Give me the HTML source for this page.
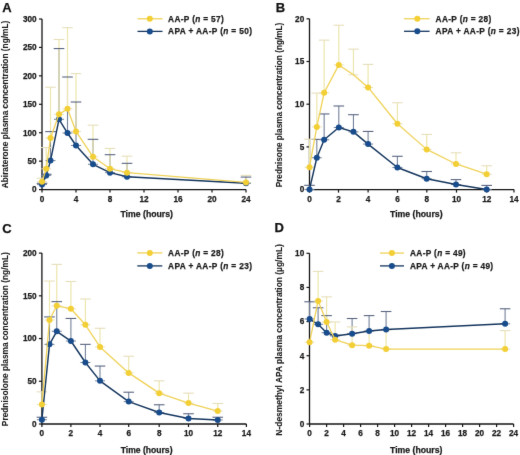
<!DOCTYPE html>
<html><head><meta charset="utf-8"><title>PK profiles</title>
<style>
html,body{margin:0;padding:0;background:#fff;}
body{width:520px;height:455px;overflow:hidden;}
svg{display:block;font-family:"Liberation Sans", sans-serif;}
</style></head>
<body>
<svg width="520" height="455" viewBox="0 0 520 455">
<defs><filter id="soft" x="0" y="0" width="520" height="455" filterUnits="userSpaceOnUse" color-interpolation-filters="sRGB"><feConvolveMatrix order="3" kernelMatrix="1 12.0 1 12.0 144.0 12.0 1 12.0 1" edgeMode="duplicate"/></filter></defs>
<g filter="url(#soft)">
<rect width="520" height="455" fill="#fff"/>
<path d="M42.00 18.99 V189.60 H246.00" fill="none" stroke="#141414" stroke-width="1.3"/>
<line x1="39.00" y1="189.60" x2="42.00" y2="189.60" stroke="#141414" stroke-width="1.2" />
<text x="36.60" y="192.40" font-size="8.2" font-weight="700" text-anchor="end" fill="#1a1a1a" stroke="#1a1a1a" stroke-width="0.25" >0</text>
<line x1="39.00" y1="161.16" x2="42.00" y2="161.16" stroke="#141414" stroke-width="1.2" />
<text x="36.60" y="163.97" font-size="8.2" font-weight="700" text-anchor="end" fill="#1a1a1a" stroke="#1a1a1a" stroke-width="0.25" >50</text>
<line x1="39.00" y1="132.73" x2="42.00" y2="132.73" stroke="#141414" stroke-width="1.2" />
<text x="36.60" y="135.53" font-size="8.2" font-weight="700" text-anchor="end" fill="#1a1a1a" stroke="#1a1a1a" stroke-width="0.25" >100</text>
<line x1="39.00" y1="104.30" x2="42.00" y2="104.30" stroke="#141414" stroke-width="1.2" />
<text x="36.60" y="107.09" font-size="8.2" font-weight="700" text-anchor="end" fill="#1a1a1a" stroke="#1a1a1a" stroke-width="0.25" >150</text>
<line x1="39.00" y1="75.86" x2="42.00" y2="75.86" stroke="#141414" stroke-width="1.2" />
<text x="36.60" y="78.66" font-size="8.2" font-weight="700" text-anchor="end" fill="#1a1a1a" stroke="#1a1a1a" stroke-width="0.25" >200</text>
<line x1="39.00" y1="47.43" x2="42.00" y2="47.43" stroke="#141414" stroke-width="1.2" />
<text x="36.60" y="50.23" font-size="8.2" font-weight="700" text-anchor="end" fill="#1a1a1a" stroke="#1a1a1a" stroke-width="0.25" >250</text>
<line x1="39.00" y1="18.99" x2="42.00" y2="18.99" stroke="#141414" stroke-width="1.2" />
<text x="36.60" y="21.79" font-size="8.2" font-weight="700" text-anchor="end" fill="#1a1a1a" stroke="#1a1a1a" stroke-width="0.25" >300</text>
<line x1="42.00" y1="189.60" x2="42.00" y2="192.60" stroke="#141414" stroke-width="1.2" />
<text x="42.00" y="201.90" font-size="8.2" font-weight="700" text-anchor="middle" fill="#1a1a1a" stroke="#1a1a1a" stroke-width="0.25" >0</text>
<line x1="76.00" y1="189.60" x2="76.00" y2="192.60" stroke="#141414" stroke-width="1.2" />
<text x="76.00" y="201.90" font-size="8.2" font-weight="700" text-anchor="middle" fill="#1a1a1a" stroke="#1a1a1a" stroke-width="0.25" >4</text>
<line x1="110.00" y1="189.60" x2="110.00" y2="192.60" stroke="#141414" stroke-width="1.2" />
<text x="110.00" y="201.90" font-size="8.2" font-weight="700" text-anchor="middle" fill="#1a1a1a" stroke="#1a1a1a" stroke-width="0.25" >8</text>
<line x1="144.00" y1="189.60" x2="144.00" y2="192.60" stroke="#141414" stroke-width="1.2" />
<text x="144.00" y="201.90" font-size="8.2" font-weight="700" text-anchor="middle" fill="#1a1a1a" stroke="#1a1a1a" stroke-width="0.25" >12</text>
<line x1="178.00" y1="189.60" x2="178.00" y2="192.60" stroke="#141414" stroke-width="1.2" />
<text x="178.00" y="201.90" font-size="8.2" font-weight="700" text-anchor="middle" fill="#1a1a1a" stroke="#1a1a1a" stroke-width="0.25" >16</text>
<line x1="212.00" y1="189.60" x2="212.00" y2="192.60" stroke="#141414" stroke-width="1.2" />
<text x="212.00" y="201.90" font-size="8.2" font-weight="700" text-anchor="middle" fill="#1a1a1a" stroke="#1a1a1a" stroke-width="0.25" >20</text>
<line x1="246.00" y1="189.60" x2="246.00" y2="192.60" stroke="#141414" stroke-width="1.2" />
<text x="246.00" y="201.90" font-size="8.2" font-weight="700" text-anchor="middle" fill="#1a1a1a" stroke="#1a1a1a" stroke-width="0.25" >24</text>
<text x="146.70" y="216.80" font-size="8.6" font-weight="700" text-anchor="middle" fill="#1a1a1a" stroke="#1a1a1a" stroke-width="0.25" textLength="52.5" lengthAdjust="spacingAndGlyphs">Time (hours)</text>
<text x="0" y="0" transform="translate(7.90,104.50) rotate(-90)" font-size="8.25" font-weight="700" text-anchor="middle" fill="#1a1a1a" stroke="#1a1a1a" stroke-width="0.1" textLength="167.5" lengthAdjust="spacingAndGlyphs">Abiraterone plasma concentration (ng/mL)</text>
<text x="2.30" y="12.20" font-size="13" font-weight="700" text-anchor="start" fill="#111" stroke="#111" stroke-width="0.25" >A</text>
<line x1="137.50" y1="18.75" x2="162.50" y2="18.75" stroke="#efd258" stroke-width="1.3" />
<circle cx="149.8" cy="18.75" r="3.0" fill="#f3cf36"/>
<line x1="137.50" y1="31.40" x2="162.50" y2="31.40" stroke="#16375f" stroke-width="1.3" />
<circle cx="149.8" cy="31.4" r="3.0" fill="#184c8c"/>
<text x="168.10" y="21.65" font-size="8.3" font-weight="700" text-anchor="start" fill="#1a1a1a" stroke="#1a1a1a" stroke-width="0.25" textLength="55.6" lengthAdjust="spacing">AA-P (<tspan font-style="italic">n</tspan> = 57)</text>
<text x="168.10" y="34.30" font-size="8.3" font-weight="700" text-anchor="start" fill="#1a1a1a" stroke="#1a1a1a" stroke-width="0.25" textLength="83.8" lengthAdjust="spacing">APA + AA-P (<tspan font-style="italic">n</tspan> = 50)</text>
<line x1="42.00" y1="184.60" x2="42.00" y2="183.34" stroke="#74829a" stroke-width="1.1" />
<line x1="46.25" y1="175.38" x2="46.25" y2="174.25" stroke="#74829a" stroke-width="1.1" />
<line x1="50.50" y1="160.60" x2="50.50" y2="131.59" stroke="#74829a" stroke-width="1.1" />
<line x1="59.00" y1="119.31" x2="59.00" y2="48.56" stroke="#74829a" stroke-width="1.1" />
<line x1="67.50" y1="133.01" x2="67.50" y2="77.00" stroke="#74829a" stroke-width="1.1" />
<line x1="76.00" y1="145.53" x2="76.00" y2="102.02" stroke="#74829a" stroke-width="1.1" />
<line x1="93.00" y1="164.29" x2="93.00" y2="139.33" stroke="#74829a" stroke-width="1.1" />
<line x1="110.00" y1="172.65" x2="110.00" y2="154.68" stroke="#74829a" stroke-width="1.1" />
<line x1="127.00" y1="176.80" x2="127.00" y2="163.33" stroke="#74829a" stroke-width="1.1" />
<line x1="246.00" y1="183.34" x2="246.00" y2="177.09" stroke="#74829a" stroke-width="1.1" />
<line x1="42.00" y1="181.64" x2="42.00" y2="178.23" stroke="#ece6ac" stroke-width="1.2" />
<line x1="46.25" y1="168.84" x2="46.25" y2="147.52" stroke="#ece6ac" stroke-width="1.2" />
<line x1="50.50" y1="138.02" x2="50.50" y2="87.23" stroke="#ece6ac" stroke-width="1.2" />
<line x1="59.00" y1="114.30" x2="59.00" y2="39.46" stroke="#ece6ac" stroke-width="1.2" />
<line x1="67.50" y1="108.84" x2="67.50" y2="27.69" stroke="#ece6ac" stroke-width="1.2" />
<line x1="76.00" y1="131.42" x2="76.00" y2="73.59" stroke="#ece6ac" stroke-width="1.2" />
<line x1="93.00" y1="156.79" x2="93.00" y2="125.17" stroke="#ece6ac" stroke-width="1.2" />
<line x1="110.00" y1="168.67" x2="110.00" y2="148.43" stroke="#ece6ac" stroke-width="1.2" />
<line x1="127.00" y1="172.65" x2="127.00" y2="156.16" stroke="#ece6ac" stroke-width="1.2" />
<line x1="246.00" y1="182.43" x2="246.00" y2="175.38" stroke="#ece6ac" stroke-width="1.2" />
<line x1="36.70" y1="183.34" x2="47.30" y2="183.34" stroke="#5a6580" stroke-width="1.1" />
<line x1="40.95" y1="174.25" x2="51.55" y2="174.25" stroke="#5a6580" stroke-width="1.1" />
<line x1="45.20" y1="131.59" x2="55.80" y2="131.59" stroke="#5a6580" stroke-width="1.1" />
<line x1="53.70" y1="48.56" x2="64.30" y2="48.56" stroke="#5a6580" stroke-width="1.1" />
<line x1="62.20" y1="77.00" x2="72.80" y2="77.00" stroke="#5a6580" stroke-width="1.1" />
<line x1="70.70" y1="102.02" x2="81.30" y2="102.02" stroke="#5a6580" stroke-width="1.1" />
<line x1="87.70" y1="139.33" x2="98.30" y2="139.33" stroke="#5a6580" stroke-width="1.1" />
<line x1="104.70" y1="154.68" x2="115.30" y2="154.68" stroke="#5a6580" stroke-width="1.1" />
<line x1="121.70" y1="163.33" x2="132.30" y2="163.33" stroke="#5a6580" stroke-width="1.1" />
<line x1="240.70" y1="177.09" x2="251.30" y2="177.09" stroke="#5a6580" stroke-width="1.1" />
<line x1="36.70" y1="178.23" x2="47.30" y2="178.23" stroke="#e6dfbb" stroke-width="1.1" />
<line x1="40.95" y1="147.52" x2="51.55" y2="147.52" stroke="#e6dfbb" stroke-width="1.1" />
<line x1="45.20" y1="87.23" x2="55.80" y2="87.23" stroke="#e6dfbb" stroke-width="1.1" />
<line x1="53.70" y1="39.46" x2="64.30" y2="39.46" stroke="#e6dfbb" stroke-width="1.1" />
<line x1="62.20" y1="27.69" x2="72.80" y2="27.69" stroke="#e6dfbb" stroke-width="1.1" />
<line x1="70.70" y1="73.59" x2="81.30" y2="73.59" stroke="#e6dfbb" stroke-width="1.1" />
<line x1="87.70" y1="125.17" x2="98.30" y2="125.17" stroke="#e6dfbb" stroke-width="1.1" />
<line x1="104.70" y1="148.43" x2="115.30" y2="148.43" stroke="#e6dfbb" stroke-width="1.1" />
<line x1="121.70" y1="156.16" x2="132.30" y2="156.16" stroke="#e6dfbb" stroke-width="1.1" />
<line x1="240.70" y1="175.38" x2="251.30" y2="175.38" stroke="#e6dfbb" stroke-width="1.1" />
<line x1="37.00" y1="181.64" x2="47.00" y2="181.64" stroke="#e6dfbb" stroke-width="1.0" />
<line x1="41.25" y1="168.84" x2="51.25" y2="168.84" stroke="#e6dfbb" stroke-width="1.0" />
<line x1="45.50" y1="138.02" x2="55.50" y2="138.02" stroke="#e6dfbb" stroke-width="1.0" />
<line x1="54.00" y1="114.30" x2="64.00" y2="114.30" stroke="#e6dfbb" stroke-width="1.0" />
<line x1="62.50" y1="108.84" x2="72.50" y2="108.84" stroke="#e6dfbb" stroke-width="1.0" />
<line x1="71.00" y1="131.42" x2="81.00" y2="131.42" stroke="#e6dfbb" stroke-width="1.0" />
<line x1="88.00" y1="156.79" x2="98.00" y2="156.79" stroke="#e6dfbb" stroke-width="1.0" />
<line x1="105.00" y1="168.67" x2="115.00" y2="168.67" stroke="#e6dfbb" stroke-width="1.0" />
<line x1="122.00" y1="172.65" x2="132.00" y2="172.65" stroke="#e6dfbb" stroke-width="1.0" />
<line x1="241.00" y1="182.43" x2="251.00" y2="182.43" stroke="#e6dfbb" stroke-width="1.0" />
<line x1="37.00" y1="184.60" x2="47.00" y2="184.60" stroke="#74829a" stroke-width="1.0" />
<line x1="41.25" y1="175.38" x2="51.25" y2="175.38" stroke="#74829a" stroke-width="1.0" />
<line x1="45.50" y1="160.60" x2="55.50" y2="160.60" stroke="#74829a" stroke-width="1.0" />
<line x1="54.00" y1="119.31" x2="64.00" y2="119.31" stroke="#74829a" stroke-width="1.0" />
<line x1="62.50" y1="133.01" x2="72.50" y2="133.01" stroke="#74829a" stroke-width="1.0" />
<line x1="71.00" y1="145.53" x2="81.00" y2="145.53" stroke="#74829a" stroke-width="1.0" />
<line x1="88.00" y1="164.29" x2="98.00" y2="164.29" stroke="#74829a" stroke-width="1.0" />
<line x1="105.00" y1="172.65" x2="115.00" y2="172.65" stroke="#74829a" stroke-width="1.0" />
<line x1="122.00" y1="176.80" x2="132.00" y2="176.80" stroke="#74829a" stroke-width="1.0" />
<line x1="241.00" y1="183.34" x2="251.00" y2="183.34" stroke="#74829a" stroke-width="1.0" />
<polyline points="42.00,184.60 46.25,175.38 50.50,160.60 59.00,119.31 67.50,133.01 76.00,145.53 93.00,164.29 110.00,172.65 127.00,176.80 246.00,183.34" fill="none" stroke="#16375f" stroke-width="1.45" stroke-linejoin="round"/>
<circle cx="42.00" cy="184.60" r="3.0" fill="#184c8c"/>
<circle cx="46.25" cy="175.38" r="3.0" fill="#184c8c"/>
<circle cx="50.50" cy="160.60" r="3.0" fill="#184c8c"/>
<circle cx="59.00" cy="119.31" r="3.0" fill="#184c8c"/>
<circle cx="67.50" cy="133.01" r="3.0" fill="#184c8c"/>
<circle cx="76.00" cy="145.53" r="3.0" fill="#184c8c"/>
<circle cx="93.00" cy="164.29" r="3.0" fill="#184c8c"/>
<circle cx="110.00" cy="172.65" r="3.0" fill="#184c8c"/>
<circle cx="127.00" cy="176.80" r="3.0" fill="#184c8c"/>
<circle cx="246.00" cy="183.34" r="3.0" fill="#184c8c"/>
<polyline points="42.00,181.64 46.25,168.84 50.50,138.02 59.00,114.30 67.50,108.84 76.00,131.42 93.00,156.79 110.00,168.67 127.00,172.65 246.00,182.43" fill="none" stroke="#efd258" stroke-width="1.3" stroke-linejoin="round"/>
<circle cx="42.00" cy="181.64" r="3.0" fill="#f3cf36"/>
<circle cx="46.25" cy="168.84" r="3.0" fill="#f3cf36"/>
<circle cx="50.50" cy="138.02" r="3.0" fill="#f3cf36"/>
<circle cx="59.00" cy="114.30" r="3.0" fill="#f3cf36"/>
<circle cx="67.50" cy="108.84" r="3.0" fill="#f3cf36"/>
<circle cx="76.00" cy="131.42" r="3.0" fill="#f3cf36"/>
<circle cx="93.00" cy="156.79" r="3.0" fill="#f3cf36"/>
<circle cx="110.00" cy="168.67" r="3.0" fill="#f3cf36"/>
<circle cx="127.00" cy="172.65" r="3.0" fill="#f3cf36"/>
<circle cx="246.00" cy="182.43" r="3.0" fill="#f3cf36"/>
<path d="M309.50 18.80 V189.60 H514.00" fill="none" stroke="#141414" stroke-width="1.3"/>
<line x1="306.50" y1="189.60" x2="309.50" y2="189.60" stroke="#141414" stroke-width="1.2" />
<text x="304.20" y="192.40" font-size="8.2" font-weight="700" text-anchor="end" fill="#1a1a1a" stroke="#1a1a1a" stroke-width="0.25" >0</text>
<line x1="306.50" y1="146.90" x2="309.50" y2="146.90" stroke="#141414" stroke-width="1.2" />
<text x="304.20" y="149.70" font-size="8.2" font-weight="700" text-anchor="end" fill="#1a1a1a" stroke="#1a1a1a" stroke-width="0.25" >5</text>
<line x1="306.50" y1="104.20" x2="309.50" y2="104.20" stroke="#141414" stroke-width="1.2" />
<text x="304.20" y="107.00" font-size="8.2" font-weight="700" text-anchor="end" fill="#1a1a1a" stroke="#1a1a1a" stroke-width="0.25" >10</text>
<line x1="306.50" y1="61.50" x2="309.50" y2="61.50" stroke="#141414" stroke-width="1.2" />
<text x="304.20" y="64.30" font-size="8.2" font-weight="700" text-anchor="end" fill="#1a1a1a" stroke="#1a1a1a" stroke-width="0.25" >15</text>
<line x1="306.50" y1="18.80" x2="309.50" y2="18.80" stroke="#141414" stroke-width="1.2" />
<text x="304.20" y="21.60" font-size="8.2" font-weight="700" text-anchor="end" fill="#1a1a1a" stroke="#1a1a1a" stroke-width="0.25" >20</text>
<line x1="309.50" y1="189.60" x2="309.50" y2="192.60" stroke="#141414" stroke-width="1.2" />
<text x="309.50" y="201.90" font-size="8.2" font-weight="700" text-anchor="middle" fill="#1a1a1a" stroke="#1a1a1a" stroke-width="0.25" >0</text>
<line x1="338.50" y1="189.60" x2="338.50" y2="192.60" stroke="#141414" stroke-width="1.2" />
<text x="338.50" y="201.90" font-size="8.2" font-weight="700" text-anchor="middle" fill="#1a1a1a" stroke="#1a1a1a" stroke-width="0.25" >2</text>
<line x1="368.10" y1="189.60" x2="368.10" y2="192.60" stroke="#141414" stroke-width="1.2" />
<text x="368.10" y="201.90" font-size="8.2" font-weight="700" text-anchor="middle" fill="#1a1a1a" stroke="#1a1a1a" stroke-width="0.25" >4</text>
<line x1="397.50" y1="189.60" x2="397.50" y2="192.60" stroke="#141414" stroke-width="1.2" />
<text x="397.50" y="201.90" font-size="8.2" font-weight="700" text-anchor="middle" fill="#1a1a1a" stroke="#1a1a1a" stroke-width="0.25" >6</text>
<line x1="426.80" y1="189.60" x2="426.80" y2="192.60" stroke="#141414" stroke-width="1.2" />
<text x="426.80" y="201.90" font-size="8.2" font-weight="700" text-anchor="middle" fill="#1a1a1a" stroke="#1a1a1a" stroke-width="0.25" >8</text>
<line x1="456.50" y1="189.60" x2="456.50" y2="192.60" stroke="#141414" stroke-width="1.2" />
<text x="456.50" y="201.90" font-size="8.2" font-weight="700" text-anchor="middle" fill="#1a1a1a" stroke="#1a1a1a" stroke-width="0.25" >10</text>
<line x1="486.80" y1="189.60" x2="486.80" y2="192.60" stroke="#141414" stroke-width="1.2" />
<text x="486.80" y="201.90" font-size="8.2" font-weight="700" text-anchor="middle" fill="#1a1a1a" stroke="#1a1a1a" stroke-width="0.25" >12</text>
<line x1="514.00" y1="189.60" x2="514.00" y2="192.60" stroke="#141414" stroke-width="1.2" />
<text x="514.00" y="201.90" font-size="8.2" font-weight="700" text-anchor="middle" fill="#1a1a1a" stroke="#1a1a1a" stroke-width="0.25" >14</text>
<text x="416.30" y="216.70" font-size="8.6" font-weight="700" text-anchor="middle" fill="#1a1a1a" stroke="#1a1a1a" stroke-width="0.25" textLength="52.5" lengthAdjust="spacingAndGlyphs">Time (hours)</text>
<text x="0" y="0" transform="translate(282.00,105.00) rotate(-90)" font-size="8.25" font-weight="700" text-anchor="middle" fill="#1a1a1a" stroke="#1a1a1a" stroke-width="0.1" textLength="164.7" lengthAdjust="spacingAndGlyphs">Prednisone plasma concentration (ng/mL)</text>
<text x="275.80" y="12.20" font-size="13" font-weight="700" text-anchor="start" fill="#111" stroke="#111" stroke-width="0.25" >B</text>
<line x1="404.00" y1="18.75" x2="429.60" y2="18.75" stroke="#efd258" stroke-width="1.3" />
<circle cx="417.3" cy="18.75" r="3.0" fill="#f3cf36"/>
<line x1="404.00" y1="31.30" x2="429.60" y2="31.30" stroke="#16375f" stroke-width="1.3" />
<circle cx="417.3" cy="31.3" r="3.0" fill="#184c8c"/>
<text x="435.60" y="21.65" font-size="8.3" font-weight="700" text-anchor="start" fill="#1a1a1a" stroke="#1a1a1a" stroke-width="0.25" textLength="55.6" lengthAdjust="spacing">AA-P (<tspan font-style="italic">n</tspan> = 28)</text>
<text x="435.60" y="34.20" font-size="8.3" font-weight="700" text-anchor="start" fill="#1a1a1a" stroke="#1a1a1a" stroke-width="0.25" textLength="83.8" lengthAdjust="spacing">APA + AA-P (<tspan font-style="italic">n</tspan> = 23)</text>
<line x1="309.50" y1="189.43" x2="309.50" y2="185.33" stroke="#74829a" stroke-width="1.1" />
<line x1="316.82" y1="157.75" x2="316.82" y2="139.38" stroke="#74829a" stroke-width="1.1" />
<line x1="324.15" y1="139.73" x2="324.15" y2="113.94" stroke="#74829a" stroke-width="1.1" />
<line x1="338.80" y1="127.51" x2="338.80" y2="105.99" stroke="#74829a" stroke-width="1.1" />
<line x1="353.45" y1="131.87" x2="353.45" y2="114.70" stroke="#74829a" stroke-width="1.1" />
<line x1="368.10" y1="144.08" x2="368.10" y2="131.44" stroke="#74829a" stroke-width="1.1" />
<line x1="397.40" y1="167.48" x2="397.40" y2="156.29" stroke="#74829a" stroke-width="1.1" />
<line x1="426.70" y1="178.75" x2="426.70" y2="171.50" stroke="#74829a" stroke-width="1.1" />
<line x1="456.00" y1="184.56" x2="456.00" y2="179.61" stroke="#74829a" stroke-width="1.1" />
<line x1="486.70" y1="189.43" x2="486.70" y2="185.42" stroke="#74829a" stroke-width="1.1" />
<line x1="309.50" y1="167.23" x2="309.50" y2="139.21" stroke="#ece6ac" stroke-width="1.2" />
<line x1="316.82" y1="126.92" x2="316.82" y2="93.10" stroke="#ece6ac" stroke-width="1.2" />
<line x1="324.15" y1="92.76" x2="324.15" y2="40.15" stroke="#ece6ac" stroke-width="1.2" />
<line x1="338.80" y1="64.92" x2="338.80" y2="25.21" stroke="#ece6ac" stroke-width="1.2" />
<line x1="353.45" y1="74.82" x2="353.45" y2="49.12" stroke="#ece6ac" stroke-width="1.2" />
<line x1="368.10" y1="87.46" x2="368.10" y2="64.40" stroke="#ece6ac" stroke-width="1.2" />
<line x1="397.40" y1="123.76" x2="397.40" y2="102.75" stroke="#ece6ac" stroke-width="1.2" />
<line x1="426.70" y1="149.38" x2="426.70" y2="134.43" stroke="#ece6ac" stroke-width="1.2" />
<line x1="456.00" y1="163.98" x2="456.00" y2="152.79" stroke="#ece6ac" stroke-width="1.2" />
<line x1="486.70" y1="174.23" x2="486.70" y2="165.77" stroke="#ece6ac" stroke-width="1.2" />
<line x1="304.20" y1="185.33" x2="314.80" y2="185.33" stroke="#5a6580" stroke-width="1.1" />
<line x1="311.52" y1="139.38" x2="322.12" y2="139.38" stroke="#5a6580" stroke-width="1.1" />
<line x1="318.85" y1="113.94" x2="329.45" y2="113.94" stroke="#5a6580" stroke-width="1.1" />
<line x1="333.50" y1="105.99" x2="344.10" y2="105.99" stroke="#5a6580" stroke-width="1.1" />
<line x1="348.15" y1="114.70" x2="358.75" y2="114.70" stroke="#5a6580" stroke-width="1.1" />
<line x1="362.80" y1="131.44" x2="373.40" y2="131.44" stroke="#5a6580" stroke-width="1.1" />
<line x1="392.10" y1="156.29" x2="402.70" y2="156.29" stroke="#5a6580" stroke-width="1.1" />
<line x1="421.40" y1="171.50" x2="432.00" y2="171.50" stroke="#5a6580" stroke-width="1.1" />
<line x1="450.70" y1="179.61" x2="461.30" y2="179.61" stroke="#5a6580" stroke-width="1.1" />
<line x1="481.40" y1="185.42" x2="492.00" y2="185.42" stroke="#5a6580" stroke-width="1.1" />
<line x1="304.20" y1="139.21" x2="314.80" y2="139.21" stroke="#e6dfbb" stroke-width="1.1" />
<line x1="311.52" y1="93.10" x2="322.12" y2="93.10" stroke="#e6dfbb" stroke-width="1.1" />
<line x1="318.85" y1="40.15" x2="329.45" y2="40.15" stroke="#e6dfbb" stroke-width="1.1" />
<line x1="333.50" y1="25.21" x2="344.10" y2="25.21" stroke="#e6dfbb" stroke-width="1.1" />
<line x1="348.15" y1="49.12" x2="358.75" y2="49.12" stroke="#e6dfbb" stroke-width="1.1" />
<line x1="362.80" y1="64.40" x2="373.40" y2="64.40" stroke="#e6dfbb" stroke-width="1.1" />
<line x1="392.10" y1="102.75" x2="402.70" y2="102.75" stroke="#e6dfbb" stroke-width="1.1" />
<line x1="421.40" y1="134.43" x2="432.00" y2="134.43" stroke="#e6dfbb" stroke-width="1.1" />
<line x1="450.70" y1="152.79" x2="461.30" y2="152.79" stroke="#e6dfbb" stroke-width="1.1" />
<line x1="481.40" y1="165.77" x2="492.00" y2="165.77" stroke="#e6dfbb" stroke-width="1.1" />
<line x1="304.50" y1="167.23" x2="314.50" y2="167.23" stroke="#e6dfbb" stroke-width="1.0" />
<line x1="311.82" y1="126.92" x2="321.82" y2="126.92" stroke="#e6dfbb" stroke-width="1.0" />
<line x1="319.15" y1="92.76" x2="329.15" y2="92.76" stroke="#e6dfbb" stroke-width="1.0" />
<line x1="333.80" y1="64.92" x2="343.80" y2="64.92" stroke="#e6dfbb" stroke-width="1.0" />
<line x1="348.45" y1="74.82" x2="358.45" y2="74.82" stroke="#e6dfbb" stroke-width="1.0" />
<line x1="363.10" y1="87.46" x2="373.10" y2="87.46" stroke="#e6dfbb" stroke-width="1.0" />
<line x1="392.40" y1="123.76" x2="402.40" y2="123.76" stroke="#e6dfbb" stroke-width="1.0" />
<line x1="421.70" y1="149.38" x2="431.70" y2="149.38" stroke="#e6dfbb" stroke-width="1.0" />
<line x1="451.00" y1="163.98" x2="461.00" y2="163.98" stroke="#e6dfbb" stroke-width="1.0" />
<line x1="481.70" y1="174.23" x2="491.70" y2="174.23" stroke="#e6dfbb" stroke-width="1.0" />
<line x1="304.50" y1="189.43" x2="314.50" y2="189.43" stroke="#74829a" stroke-width="1.0" />
<line x1="311.82" y1="157.75" x2="321.82" y2="157.75" stroke="#74829a" stroke-width="1.0" />
<line x1="319.15" y1="139.73" x2="329.15" y2="139.73" stroke="#74829a" stroke-width="1.0" />
<line x1="333.80" y1="127.51" x2="343.80" y2="127.51" stroke="#74829a" stroke-width="1.0" />
<line x1="348.45" y1="131.87" x2="358.45" y2="131.87" stroke="#74829a" stroke-width="1.0" />
<line x1="363.10" y1="144.08" x2="373.10" y2="144.08" stroke="#74829a" stroke-width="1.0" />
<line x1="392.40" y1="167.48" x2="402.40" y2="167.48" stroke="#74829a" stroke-width="1.0" />
<line x1="421.70" y1="178.75" x2="431.70" y2="178.75" stroke="#74829a" stroke-width="1.0" />
<line x1="451.00" y1="184.56" x2="461.00" y2="184.56" stroke="#74829a" stroke-width="1.0" />
<line x1="481.70" y1="189.43" x2="491.70" y2="189.43" stroke="#74829a" stroke-width="1.0" />
<polyline points="309.50,189.43 316.82,157.75 324.15,139.73 338.80,127.51 353.45,131.87 368.10,144.08 397.40,167.48 426.70,178.75 456.00,184.56 486.70,189.43" fill="none" stroke="#16375f" stroke-width="1.45" stroke-linejoin="round"/>
<circle cx="309.50" cy="189.43" r="3.0" fill="#184c8c"/>
<circle cx="316.82" cy="157.75" r="3.0" fill="#184c8c"/>
<circle cx="324.15" cy="139.73" r="3.0" fill="#184c8c"/>
<circle cx="338.80" cy="127.51" r="3.0" fill="#184c8c"/>
<circle cx="353.45" cy="131.87" r="3.0" fill="#184c8c"/>
<circle cx="368.10" cy="144.08" r="3.0" fill="#184c8c"/>
<circle cx="397.40" cy="167.48" r="3.0" fill="#184c8c"/>
<circle cx="426.70" cy="178.75" r="3.0" fill="#184c8c"/>
<circle cx="456.00" cy="184.56" r="3.0" fill="#184c8c"/>
<circle cx="486.70" cy="189.43" r="3.0" fill="#184c8c"/>
<polyline points="309.50,167.23 316.82,126.92 324.15,92.76 338.80,64.92 353.45,74.82 368.10,87.46 397.40,123.76 426.70,149.38 456.00,163.98 486.70,174.23" fill="none" stroke="#efd258" stroke-width="1.3" stroke-linejoin="round"/>
<circle cx="309.50" cy="167.23" r="3.0" fill="#f3cf36"/>
<circle cx="316.82" cy="126.92" r="3.0" fill="#f3cf36"/>
<circle cx="324.15" cy="92.76" r="3.0" fill="#f3cf36"/>
<circle cx="338.80" cy="64.92" r="3.0" fill="#f3cf36"/>
<circle cx="368.10" cy="87.46" r="3.0" fill="#f3cf36"/>
<circle cx="397.40" cy="123.76" r="3.0" fill="#f3cf36"/>
<circle cx="426.70" cy="149.38" r="3.0" fill="#f3cf36"/>
<circle cx="456.00" cy="163.98" r="3.0" fill="#f3cf36"/>
<circle cx="486.70" cy="174.23" r="3.0" fill="#f3cf36"/>
<path d="M41.90 253.10 V424.00 H246.40" fill="none" stroke="#141414" stroke-width="1.3"/>
<line x1="38.90" y1="424.00" x2="41.90" y2="424.00" stroke="#141414" stroke-width="1.2" />
<text x="36.60" y="426.80" font-size="8.2" font-weight="700" text-anchor="end" fill="#1a1a1a" stroke="#1a1a1a" stroke-width="0.25" >0</text>
<line x1="38.90" y1="381.27" x2="41.90" y2="381.27" stroke="#141414" stroke-width="1.2" />
<text x="36.60" y="384.07" font-size="8.2" font-weight="700" text-anchor="end" fill="#1a1a1a" stroke="#1a1a1a" stroke-width="0.25" >50</text>
<line x1="38.90" y1="338.55" x2="41.90" y2="338.55" stroke="#141414" stroke-width="1.2" />
<text x="36.60" y="341.35" font-size="8.2" font-weight="700" text-anchor="end" fill="#1a1a1a" stroke="#1a1a1a" stroke-width="0.25" >100</text>
<line x1="38.90" y1="295.82" x2="41.90" y2="295.82" stroke="#141414" stroke-width="1.2" />
<text x="36.60" y="298.62" font-size="8.2" font-weight="700" text-anchor="end" fill="#1a1a1a" stroke="#1a1a1a" stroke-width="0.25" >150</text>
<line x1="38.90" y1="253.10" x2="41.90" y2="253.10" stroke="#141414" stroke-width="1.2" />
<text x="36.60" y="255.90" font-size="8.2" font-weight="700" text-anchor="end" fill="#1a1a1a" stroke="#1a1a1a" stroke-width="0.25" >200</text>
<line x1="41.90" y1="424.00" x2="41.90" y2="427.00" stroke="#141414" stroke-width="1.2" />
<text x="41.90" y="436.30" font-size="8.2" font-weight="700" text-anchor="middle" fill="#1a1a1a" stroke="#1a1a1a" stroke-width="0.25" >0</text>
<line x1="70.90" y1="424.00" x2="70.90" y2="427.00" stroke="#141414" stroke-width="1.2" />
<text x="70.90" y="436.30" font-size="8.2" font-weight="700" text-anchor="middle" fill="#1a1a1a" stroke="#1a1a1a" stroke-width="0.25" >2</text>
<line x1="100.00" y1="424.00" x2="100.00" y2="427.00" stroke="#141414" stroke-width="1.2" />
<text x="100.00" y="436.30" font-size="8.2" font-weight="700" text-anchor="middle" fill="#1a1a1a" stroke="#1a1a1a" stroke-width="0.25" >4</text>
<line x1="128.70" y1="424.00" x2="128.70" y2="427.00" stroke="#141414" stroke-width="1.2" />
<text x="128.70" y="436.30" font-size="8.2" font-weight="700" text-anchor="middle" fill="#1a1a1a" stroke="#1a1a1a" stroke-width="0.25" >6</text>
<line x1="159.20" y1="424.00" x2="159.20" y2="427.00" stroke="#141414" stroke-width="1.2" />
<text x="159.20" y="436.30" font-size="8.2" font-weight="700" text-anchor="middle" fill="#1a1a1a" stroke="#1a1a1a" stroke-width="0.25" >8</text>
<line x1="188.50" y1="424.00" x2="188.50" y2="427.00" stroke="#141414" stroke-width="1.2" />
<text x="188.50" y="436.30" font-size="8.2" font-weight="700" text-anchor="middle" fill="#1a1a1a" stroke="#1a1a1a" stroke-width="0.25" >10</text>
<line x1="217.75" y1="424.00" x2="217.75" y2="427.00" stroke="#141414" stroke-width="1.2" />
<text x="217.75" y="436.30" font-size="8.2" font-weight="700" text-anchor="middle" fill="#1a1a1a" stroke="#1a1a1a" stroke-width="0.25" >12</text>
<line x1="246.40" y1="424.00" x2="246.40" y2="427.00" stroke="#141414" stroke-width="1.2" />
<text x="246.40" y="436.30" font-size="8.2" font-weight="700" text-anchor="middle" fill="#1a1a1a" stroke="#1a1a1a" stroke-width="0.25" >14</text>
<text x="146.60" y="452.80" font-size="8.6" font-weight="700" text-anchor="middle" fill="#1a1a1a" stroke="#1a1a1a" stroke-width="0.25" textLength="51.8" lengthAdjust="spacingAndGlyphs">Time (hours)</text>
<text x="0" y="0" transform="translate(7.90,339.20) rotate(-90)" font-size="8.25" font-weight="700" text-anchor="middle" fill="#1a1a1a" stroke="#1a1a1a" stroke-width="0.1" textLength="173.9" lengthAdjust="spacingAndGlyphs">Prednisolone plasma concentration (ng/mL)</text>
<text x="2.30" y="232.50" font-size="13" font-weight="700" text-anchor="start" fill="#111" stroke="#111" stroke-width="0.25" >C</text>
<line x1="137.30" y1="252.90" x2="162.30" y2="252.90" stroke="#efd258" stroke-width="1.3" />
<circle cx="149.8" cy="252.9" r="3.0" fill="#f3cf36"/>
<line x1="137.30" y1="265.90" x2="162.30" y2="265.90" stroke="#16375f" stroke-width="1.3" />
<circle cx="149.8" cy="265.9" r="3.0" fill="#184c8c"/>
<text x="168.10" y="255.80" font-size="8.3" font-weight="700" text-anchor="start" fill="#1a1a1a" stroke="#1a1a1a" stroke-width="0.25" textLength="55.6" lengthAdjust="spacing">AA-P (<tspan font-style="italic">n</tspan> = 28)</text>
<text x="168.10" y="268.80" font-size="8.3" font-weight="700" text-anchor="start" fill="#1a1a1a" stroke="#1a1a1a" stroke-width="0.25" textLength="83.8" lengthAdjust="spacing">APA + AA-P (<tspan font-style="italic">n</tspan> = 23)</text>
<line x1="41.90" y1="419.73" x2="41.90" y2="417.25" stroke="#74829a" stroke-width="1.1" />
<line x1="49.50" y1="344.36" x2="49.50" y2="316.93" stroke="#74829a" stroke-width="1.1" />
<line x1="56.75" y1="331.29" x2="56.75" y2="301.64" stroke="#74829a" stroke-width="1.1" />
<line x1="70.90" y1="341.03" x2="70.90" y2="318.47" stroke="#74829a" stroke-width="1.1" />
<line x1="85.40" y1="362.48" x2="85.40" y2="344.36" stroke="#74829a" stroke-width="1.1" />
<line x1="100.00" y1="380.85" x2="100.00" y2="366.06" stroke="#74829a" stroke-width="1.1" />
<line x1="128.70" y1="401.61" x2="128.70" y2="392.21" stroke="#74829a" stroke-width="1.1" />
<line x1="159.20" y1="412.46" x2="159.20" y2="404.77" stroke="#74829a" stroke-width="1.1" />
<line x1="188.50" y1="418.53" x2="188.50" y2="413.75" stroke="#74829a" stroke-width="1.1" />
<line x1="217.75" y1="419.98" x2="217.75" y2="417.25" stroke="#74829a" stroke-width="1.1" />
<line x1="41.90" y1="404.43" x2="41.90" y2="391.87" stroke="#ece6ac" stroke-width="1.2" />
<line x1="49.50" y1="320.01" x2="49.50" y2="281.04" stroke="#ece6ac" stroke-width="1.2" />
<line x1="56.75" y1="305.82" x2="56.75" y2="264.38" stroke="#ece6ac" stroke-width="1.2" />
<line x1="70.90" y1="308.73" x2="70.90" y2="281.47" stroke="#ece6ac" stroke-width="1.2" />
<line x1="85.40" y1="324.79" x2="85.40" y2="298.99" stroke="#ece6ac" stroke-width="1.2" />
<line x1="100.00" y1="346.92" x2="100.00" y2="328.30" stroke="#ece6ac" stroke-width="1.2" />
<line x1="128.70" y1="372.90" x2="128.70" y2="356.24" stroke="#ece6ac" stroke-width="1.2" />
<line x1="159.20" y1="393.15" x2="159.20" y2="380.85" stroke="#ece6ac" stroke-width="1.2" />
<line x1="188.50" y1="403.06" x2="188.50" y2="393.15" stroke="#ece6ac" stroke-width="1.2" />
<line x1="217.75" y1="411.01" x2="217.75" y2="403.49" stroke="#ece6ac" stroke-width="1.2" />
<line x1="36.60" y1="417.25" x2="47.20" y2="417.25" stroke="#5a6580" stroke-width="1.1" />
<line x1="44.20" y1="316.93" x2="54.80" y2="316.93" stroke="#5a6580" stroke-width="1.1" />
<line x1="51.45" y1="301.64" x2="62.05" y2="301.64" stroke="#5a6580" stroke-width="1.1" />
<line x1="65.60" y1="318.47" x2="76.20" y2="318.47" stroke="#5a6580" stroke-width="1.1" />
<line x1="80.10" y1="344.36" x2="90.70" y2="344.36" stroke="#5a6580" stroke-width="1.1" />
<line x1="94.70" y1="366.06" x2="105.30" y2="366.06" stroke="#5a6580" stroke-width="1.1" />
<line x1="123.40" y1="392.21" x2="134.00" y2="392.21" stroke="#5a6580" stroke-width="1.1" />
<line x1="153.90" y1="404.77" x2="164.50" y2="404.77" stroke="#5a6580" stroke-width="1.1" />
<line x1="183.20" y1="413.75" x2="193.80" y2="413.75" stroke="#5a6580" stroke-width="1.1" />
<line x1="212.45" y1="417.25" x2="223.05" y2="417.25" stroke="#5a6580" stroke-width="1.1" />
<line x1="36.60" y1="391.87" x2="47.20" y2="391.87" stroke="#e6dfbb" stroke-width="1.1" />
<line x1="44.20" y1="281.04" x2="54.80" y2="281.04" stroke="#e6dfbb" stroke-width="1.1" />
<line x1="51.45" y1="264.38" x2="62.05" y2="264.38" stroke="#e6dfbb" stroke-width="1.1" />
<line x1="65.60" y1="281.47" x2="76.20" y2="281.47" stroke="#e6dfbb" stroke-width="1.1" />
<line x1="80.10" y1="298.99" x2="90.70" y2="298.99" stroke="#e6dfbb" stroke-width="1.1" />
<line x1="94.70" y1="328.30" x2="105.30" y2="328.30" stroke="#e6dfbb" stroke-width="1.1" />
<line x1="123.40" y1="356.24" x2="134.00" y2="356.24" stroke="#e6dfbb" stroke-width="1.1" />
<line x1="153.90" y1="380.85" x2="164.50" y2="380.85" stroke="#e6dfbb" stroke-width="1.1" />
<line x1="183.20" y1="393.15" x2="193.80" y2="393.15" stroke="#e6dfbb" stroke-width="1.1" />
<line x1="212.45" y1="403.49" x2="223.05" y2="403.49" stroke="#e6dfbb" stroke-width="1.1" />
<line x1="36.90" y1="404.43" x2="46.90" y2="404.43" stroke="#e6dfbb" stroke-width="1.0" />
<line x1="44.50" y1="320.01" x2="54.50" y2="320.01" stroke="#e6dfbb" stroke-width="1.0" />
<line x1="51.75" y1="305.82" x2="61.75" y2="305.82" stroke="#e6dfbb" stroke-width="1.0" />
<line x1="65.90" y1="308.73" x2="75.90" y2="308.73" stroke="#e6dfbb" stroke-width="1.0" />
<line x1="80.40" y1="324.79" x2="90.40" y2="324.79" stroke="#e6dfbb" stroke-width="1.0" />
<line x1="95.00" y1="346.92" x2="105.00" y2="346.92" stroke="#e6dfbb" stroke-width="1.0" />
<line x1="123.70" y1="372.90" x2="133.70" y2="372.90" stroke="#e6dfbb" stroke-width="1.0" />
<line x1="154.20" y1="393.15" x2="164.20" y2="393.15" stroke="#e6dfbb" stroke-width="1.0" />
<line x1="183.50" y1="403.06" x2="193.50" y2="403.06" stroke="#e6dfbb" stroke-width="1.0" />
<line x1="212.75" y1="411.01" x2="222.75" y2="411.01" stroke="#e6dfbb" stroke-width="1.0" />
<line x1="36.90" y1="419.73" x2="46.90" y2="419.73" stroke="#74829a" stroke-width="1.0" />
<line x1="44.50" y1="344.36" x2="54.50" y2="344.36" stroke="#74829a" stroke-width="1.0" />
<line x1="51.75" y1="331.29" x2="61.75" y2="331.29" stroke="#74829a" stroke-width="1.0" />
<line x1="65.90" y1="341.03" x2="75.90" y2="341.03" stroke="#74829a" stroke-width="1.0" />
<line x1="80.40" y1="362.48" x2="90.40" y2="362.48" stroke="#74829a" stroke-width="1.0" />
<line x1="95.00" y1="380.85" x2="105.00" y2="380.85" stroke="#74829a" stroke-width="1.0" />
<line x1="123.70" y1="401.61" x2="133.70" y2="401.61" stroke="#74829a" stroke-width="1.0" />
<line x1="154.20" y1="412.46" x2="164.20" y2="412.46" stroke="#74829a" stroke-width="1.0" />
<line x1="183.50" y1="418.53" x2="193.50" y2="418.53" stroke="#74829a" stroke-width="1.0" />
<line x1="212.75" y1="419.98" x2="222.75" y2="419.98" stroke="#74829a" stroke-width="1.0" />
<polyline points="41.90,419.73 49.50,344.36 56.75,331.29 70.90,341.03 85.40,362.48 100.00,380.85 128.70,401.61 159.20,412.46 188.50,418.53 217.75,419.98" fill="none" stroke="#16375f" stroke-width="1.45" stroke-linejoin="round"/>
<circle cx="41.90" cy="419.73" r="3.0" fill="#184c8c"/>
<circle cx="49.50" cy="344.36" r="3.0" fill="#184c8c"/>
<circle cx="56.75" cy="331.29" r="3.0" fill="#184c8c"/>
<circle cx="70.90" cy="341.03" r="3.0" fill="#184c8c"/>
<circle cx="85.40" cy="362.48" r="3.0" fill="#184c8c"/>
<circle cx="100.00" cy="380.85" r="3.0" fill="#184c8c"/>
<circle cx="128.70" cy="401.61" r="3.0" fill="#184c8c"/>
<circle cx="159.20" cy="412.46" r="3.0" fill="#184c8c"/>
<circle cx="188.50" cy="418.53" r="3.0" fill="#184c8c"/>
<circle cx="217.75" cy="419.98" r="3.0" fill="#184c8c"/>
<polyline points="41.90,404.43 49.50,320.01 56.75,305.82 70.90,308.73 85.40,324.79 100.00,346.92 128.70,372.90 159.20,393.15 188.50,403.06 217.75,411.01" fill="none" stroke="#efd258" stroke-width="1.3" stroke-linejoin="round"/>
<circle cx="41.90" cy="404.43" r="3.0" fill="#f3cf36"/>
<circle cx="49.50" cy="320.01" r="3.0" fill="#f3cf36"/>
<circle cx="56.75" cy="305.82" r="3.0" fill="#f3cf36"/>
<circle cx="70.90" cy="308.73" r="3.0" fill="#f3cf36"/>
<circle cx="85.40" cy="324.79" r="3.0" fill="#f3cf36"/>
<circle cx="100.00" cy="346.92" r="3.0" fill="#f3cf36"/>
<circle cx="128.70" cy="372.90" r="3.0" fill="#f3cf36"/>
<circle cx="159.20" cy="393.15" r="3.0" fill="#f3cf36"/>
<circle cx="188.50" cy="403.06" r="3.0" fill="#f3cf36"/>
<circle cx="217.75" cy="411.01" r="3.0" fill="#f3cf36"/>
<path d="M309.50 253.30 V424.00 H513.60" fill="none" stroke="#141414" stroke-width="1.3"/>
<line x1="306.50" y1="424.00" x2="309.50" y2="424.00" stroke="#141414" stroke-width="1.2" />
<text x="304.20" y="426.80" font-size="8.2" font-weight="700" text-anchor="end" fill="#1a1a1a" stroke="#1a1a1a" stroke-width="0.25" >0</text>
<line x1="306.50" y1="389.86" x2="309.50" y2="389.86" stroke="#141414" stroke-width="1.2" />
<text x="304.20" y="392.66" font-size="8.2" font-weight="700" text-anchor="end" fill="#1a1a1a" stroke="#1a1a1a" stroke-width="0.25" >2</text>
<line x1="306.50" y1="355.72" x2="309.50" y2="355.72" stroke="#141414" stroke-width="1.2" />
<text x="304.20" y="358.52" font-size="8.2" font-weight="700" text-anchor="end" fill="#1a1a1a" stroke="#1a1a1a" stroke-width="0.25" >4</text>
<line x1="306.50" y1="321.58" x2="309.50" y2="321.58" stroke="#141414" stroke-width="1.2" />
<text x="304.20" y="324.38" font-size="8.2" font-weight="700" text-anchor="end" fill="#1a1a1a" stroke="#1a1a1a" stroke-width="0.25" >6</text>
<line x1="306.50" y1="287.44" x2="309.50" y2="287.44" stroke="#141414" stroke-width="1.2" />
<text x="304.20" y="290.24" font-size="8.2" font-weight="700" text-anchor="end" fill="#1a1a1a" stroke="#1a1a1a" stroke-width="0.25" >8</text>
<line x1="306.50" y1="253.30" x2="309.50" y2="253.30" stroke="#141414" stroke-width="1.2" />
<text x="304.20" y="256.10" font-size="8.2" font-weight="700" text-anchor="end" fill="#1a1a1a" stroke="#1a1a1a" stroke-width="0.25" >10</text>
<line x1="309.60" y1="424.00" x2="309.60" y2="427.00" stroke="#141414" stroke-width="1.2" />
<text x="309.60" y="436.30" font-size="8.2" font-weight="700" text-anchor="middle" fill="#1a1a1a" stroke="#1a1a1a" stroke-width="0.25" >0</text>
<line x1="326.60" y1="424.00" x2="326.60" y2="427.00" stroke="#141414" stroke-width="1.2" />
<text x="326.60" y="436.30" font-size="8.2" font-weight="700" text-anchor="middle" fill="#1a1a1a" stroke="#1a1a1a" stroke-width="0.25" >2</text>
<line x1="343.60" y1="424.00" x2="343.60" y2="427.00" stroke="#141414" stroke-width="1.2" />
<text x="343.60" y="436.30" font-size="8.2" font-weight="700" text-anchor="middle" fill="#1a1a1a" stroke="#1a1a1a" stroke-width="0.25" >4</text>
<line x1="360.60" y1="424.00" x2="360.60" y2="427.00" stroke="#141414" stroke-width="1.2" />
<text x="360.60" y="436.30" font-size="8.2" font-weight="700" text-anchor="middle" fill="#1a1a1a" stroke="#1a1a1a" stroke-width="0.25" >6</text>
<line x1="377.60" y1="424.00" x2="377.60" y2="427.00" stroke="#141414" stroke-width="1.2" />
<text x="377.60" y="436.30" font-size="8.2" font-weight="700" text-anchor="middle" fill="#1a1a1a" stroke="#1a1a1a" stroke-width="0.25" >8</text>
<line x1="394.60" y1="424.00" x2="394.60" y2="427.00" stroke="#141414" stroke-width="1.2" />
<text x="394.60" y="436.30" font-size="8.2" font-weight="700" text-anchor="middle" fill="#1a1a1a" stroke="#1a1a1a" stroke-width="0.25" >10</text>
<line x1="411.60" y1="424.00" x2="411.60" y2="427.00" stroke="#141414" stroke-width="1.2" />
<text x="411.60" y="436.30" font-size="8.2" font-weight="700" text-anchor="middle" fill="#1a1a1a" stroke="#1a1a1a" stroke-width="0.25" >12</text>
<line x1="428.60" y1="424.00" x2="428.60" y2="427.00" stroke="#141414" stroke-width="1.2" />
<text x="428.60" y="436.30" font-size="8.2" font-weight="700" text-anchor="middle" fill="#1a1a1a" stroke="#1a1a1a" stroke-width="0.25" >14</text>
<line x1="445.60" y1="424.00" x2="445.60" y2="427.00" stroke="#141414" stroke-width="1.2" />
<text x="445.60" y="436.30" font-size="8.2" font-weight="700" text-anchor="middle" fill="#1a1a1a" stroke="#1a1a1a" stroke-width="0.25" >16</text>
<line x1="462.60" y1="424.00" x2="462.60" y2="427.00" stroke="#141414" stroke-width="1.2" />
<text x="462.60" y="436.30" font-size="8.2" font-weight="700" text-anchor="middle" fill="#1a1a1a" stroke="#1a1a1a" stroke-width="0.25" >18</text>
<line x1="479.60" y1="424.00" x2="479.60" y2="427.00" stroke="#141414" stroke-width="1.2" />
<text x="479.60" y="436.30" font-size="8.2" font-weight="700" text-anchor="middle" fill="#1a1a1a" stroke="#1a1a1a" stroke-width="0.25" >20</text>
<line x1="496.60" y1="424.00" x2="496.60" y2="427.00" stroke="#141414" stroke-width="1.2" />
<text x="496.60" y="436.30" font-size="8.2" font-weight="700" text-anchor="middle" fill="#1a1a1a" stroke="#1a1a1a" stroke-width="0.25" >22</text>
<line x1="513.60" y1="424.00" x2="513.60" y2="427.00" stroke="#141414" stroke-width="1.2" />
<text x="513.60" y="436.30" font-size="8.2" font-weight="700" text-anchor="middle" fill="#1a1a1a" stroke="#1a1a1a" stroke-width="0.25" >24</text>
<text x="416.20" y="453.00" font-size="8.6" font-weight="700" text-anchor="middle" fill="#1a1a1a" stroke="#1a1a1a" stroke-width="0.25" textLength="52.3" lengthAdjust="spacingAndGlyphs">Time (hours)</text>
<text x="0" y="0" transform="translate(281.80,339.90) rotate(-90)" font-size="8.25" font-weight="700" text-anchor="middle" fill="#1a1a1a" stroke="#1a1a1a" stroke-width="0.1" textLength="191.5" lengthAdjust="spacingAndGlyphs">N-desmethyl APA plasma concentration (&#181;g/mL)</text>
<text x="274.60" y="232.20" font-size="13" font-weight="700" text-anchor="start" fill="#111" stroke="#111" stroke-width="0.25" >D</text>
<line x1="380.00" y1="253.10" x2="404.00" y2="253.10" stroke="#efd258" stroke-width="1.3" />
<circle cx="391.9" cy="253.1" r="3.0" fill="#f3cf36"/>
<line x1="380.00" y1="265.90" x2="404.00" y2="265.90" stroke="#16375f" stroke-width="1.3" />
<circle cx="391.9" cy="265.9" r="3.0" fill="#184c8c"/>
<text x="410.00" y="256.00" font-size="8.3" font-weight="700" text-anchor="start" fill="#1a1a1a" stroke="#1a1a1a" stroke-width="0.25" textLength="55.6" lengthAdjust="spacing">AA-P (<tspan font-style="italic">n</tspan> = 49)</text>
<text x="410.00" y="268.80" font-size="8.3" font-weight="700" text-anchor="start" fill="#1a1a1a" stroke="#1a1a1a" stroke-width="0.25" textLength="83.1" lengthAdjust="spacing">APA + AA-P (<tspan font-style="italic">n</tspan> = 49)</text>
<line x1="309.60" y1="319.02" x2="309.60" y2="301.78" stroke="#74829a" stroke-width="1.1" />
<line x1="318.10" y1="324.31" x2="318.10" y2="307.75" stroke="#74829a" stroke-width="1.1" />
<line x1="326.60" y1="332.68" x2="326.60" y2="315.61" stroke="#74829a" stroke-width="1.1" />
<line x1="335.10" y1="335.92" x2="335.10" y2="335.24" stroke="#74829a" stroke-width="1.1" />
<line x1="352.10" y1="333.70" x2="352.10" y2="318.51" stroke="#74829a" stroke-width="1.1" />
<line x1="369.10" y1="330.97" x2="369.10" y2="315.61" stroke="#74829a" stroke-width="1.1" />
<line x1="386.10" y1="329.43" x2="386.10" y2="311.51" stroke="#74829a" stroke-width="1.1" />
<line x1="505.10" y1="323.80" x2="505.10" y2="308.78" stroke="#74829a" stroke-width="1.1" />
<line x1="318.10" y1="300.93" x2="318.10" y2="271.39" stroke="#ece6ac" stroke-width="1.2" />
<line x1="326.60" y1="322.09" x2="326.60" y2="296.83" stroke="#ece6ac" stroke-width="1.2" />
<line x1="335.10" y1="339.67" x2="335.10" y2="321.92" stroke="#ece6ac" stroke-width="1.2" />
<line x1="352.10" y1="345.14" x2="352.10" y2="326.87" stroke="#ece6ac" stroke-width="1.2" />
<line x1="369.10" y1="345.65" x2="369.10" y2="330.97" stroke="#ece6ac" stroke-width="1.2" />
<line x1="386.10" y1="349.06" x2="386.10" y2="330.12" stroke="#ece6ac" stroke-width="1.2" />
<line x1="505.10" y1="349.06" x2="505.10" y2="330.63" stroke="#ece6ac" stroke-width="1.2" />
<line x1="304.30" y1="301.78" x2="314.90" y2="301.78" stroke="#5a6580" stroke-width="1.1" />
<line x1="312.80" y1="307.75" x2="323.40" y2="307.75" stroke="#5a6580" stroke-width="1.1" />
<line x1="321.30" y1="315.61" x2="331.90" y2="315.61" stroke="#5a6580" stroke-width="1.1" />
<line x1="329.80" y1="335.24" x2="340.40" y2="335.24" stroke="#5a6580" stroke-width="1.1" />
<line x1="346.80" y1="318.51" x2="357.40" y2="318.51" stroke="#5a6580" stroke-width="1.1" />
<line x1="363.80" y1="315.61" x2="374.40" y2="315.61" stroke="#5a6580" stroke-width="1.1" />
<line x1="380.80" y1="311.51" x2="391.40" y2="311.51" stroke="#5a6580" stroke-width="1.1" />
<line x1="499.80" y1="308.78" x2="510.40" y2="308.78" stroke="#5a6580" stroke-width="1.1" />
<line x1="312.80" y1="271.39" x2="323.40" y2="271.39" stroke="#e6dfbb" stroke-width="1.1" />
<line x1="321.30" y1="296.83" x2="331.90" y2="296.83" stroke="#e6dfbb" stroke-width="1.1" />
<line x1="329.80" y1="321.92" x2="340.40" y2="321.92" stroke="#e6dfbb" stroke-width="1.1" />
<line x1="346.80" y1="326.87" x2="357.40" y2="326.87" stroke="#e6dfbb" stroke-width="1.1" />
<line x1="363.80" y1="330.97" x2="374.40" y2="330.97" stroke="#e6dfbb" stroke-width="1.1" />
<line x1="380.80" y1="330.12" x2="391.40" y2="330.12" stroke="#e6dfbb" stroke-width="1.1" />
<line x1="499.80" y1="330.63" x2="510.40" y2="330.63" stroke="#e6dfbb" stroke-width="1.1" />
<line x1="304.60" y1="342.23" x2="314.60" y2="342.23" stroke="#e6dfbb" stroke-width="1.0" />
<line x1="313.10" y1="300.93" x2="323.10" y2="300.93" stroke="#e6dfbb" stroke-width="1.0" />
<line x1="321.60" y1="322.09" x2="331.60" y2="322.09" stroke="#e6dfbb" stroke-width="1.0" />
<line x1="330.10" y1="339.67" x2="340.10" y2="339.67" stroke="#e6dfbb" stroke-width="1.0" />
<line x1="347.10" y1="345.14" x2="357.10" y2="345.14" stroke="#e6dfbb" stroke-width="1.0" />
<line x1="364.10" y1="345.65" x2="374.10" y2="345.65" stroke="#e6dfbb" stroke-width="1.0" />
<line x1="381.10" y1="349.06" x2="391.10" y2="349.06" stroke="#e6dfbb" stroke-width="1.0" />
<line x1="500.10" y1="349.06" x2="510.10" y2="349.06" stroke="#e6dfbb" stroke-width="1.0" />
<line x1="304.60" y1="319.02" x2="314.60" y2="319.02" stroke="#74829a" stroke-width="1.0" />
<line x1="313.10" y1="324.31" x2="323.10" y2="324.31" stroke="#74829a" stroke-width="1.0" />
<line x1="321.60" y1="332.68" x2="331.60" y2="332.68" stroke="#74829a" stroke-width="1.0" />
<line x1="330.10" y1="335.92" x2="340.10" y2="335.92" stroke="#74829a" stroke-width="1.0" />
<line x1="347.10" y1="333.70" x2="357.10" y2="333.70" stroke="#74829a" stroke-width="1.0" />
<line x1="364.10" y1="330.97" x2="374.10" y2="330.97" stroke="#74829a" stroke-width="1.0" />
<line x1="381.10" y1="329.43" x2="391.10" y2="329.43" stroke="#74829a" stroke-width="1.0" />
<line x1="500.10" y1="323.80" x2="510.10" y2="323.80" stroke="#74829a" stroke-width="1.0" />
<polyline points="309.60,319.02 318.10,324.31 326.60,332.68 335.10,335.92 352.10,333.70 369.10,330.97 386.10,329.43 505.10,323.80" fill="none" stroke="#16375f" stroke-width="1.45" stroke-linejoin="round"/>
<circle cx="309.60" cy="319.02" r="3.0" fill="#184c8c"/>
<circle cx="318.10" cy="324.31" r="3.0" fill="#184c8c"/>
<circle cx="326.60" cy="332.68" r="3.0" fill="#184c8c"/>
<circle cx="335.10" cy="335.92" r="3.0" fill="#184c8c"/>
<circle cx="352.10" cy="333.70" r="3.0" fill="#184c8c"/>
<circle cx="369.10" cy="330.97" r="3.0" fill="#184c8c"/>
<circle cx="386.10" cy="329.43" r="3.0" fill="#184c8c"/>
<circle cx="505.10" cy="323.80" r="3.0" fill="#184c8c"/>
<polyline points="309.60,342.23 318.10,300.93 326.60,322.09 335.10,339.67 352.10,345.14 369.10,345.65 386.10,349.06 505.10,349.06" fill="none" stroke="#efd258" stroke-width="1.3" stroke-linejoin="round"/>
<circle cx="309.60" cy="342.23" r="3.0" fill="#f3cf36"/>
<circle cx="318.10" cy="300.93" r="3.0" fill="#f3cf36"/>
<circle cx="326.60" cy="322.09" r="3.0" fill="#f3cf36"/>
<circle cx="335.10" cy="339.67" r="3.0" fill="#f3cf36"/>
<circle cx="352.10" cy="345.14" r="3.0" fill="#f3cf36"/>
<circle cx="369.10" cy="345.65" r="3.0" fill="#f3cf36"/>
<circle cx="386.10" cy="349.06" r="3.0" fill="#f3cf36"/>
<circle cx="505.10" cy="349.06" r="3.0" fill="#f3cf36"/>
</g>
</svg>
</body></html>
